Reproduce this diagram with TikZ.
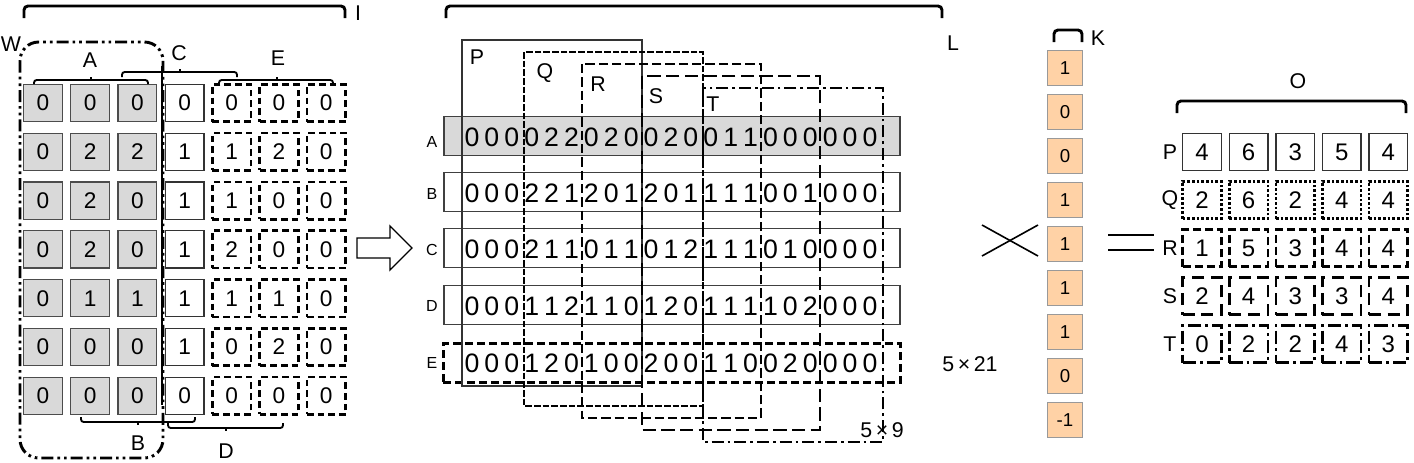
\documentclass[tikz,border=0pt]{standalone}
\usepackage{fontspec}
\setmainfont{Liberation Sans}
\begin{document}
\begin{tikzpicture}[x=0.75pt,y=-0.75pt,
  cell/.style={draw,minimum width=29pt,minimum height=28pt,inner sep=0pt,font=\fontsize{17}{17}\selectfont},
  gcell/.style={cell,fill=gray!30,draw=black!70,line width=0.9pt},
  wcell/.style={cell,draw=black!80,line width=0.9pt},
  dcell/.style={cell,dashed,line width=2pt,dash pattern=on 5pt off 3pt},
  dig/.style={inner sep=0pt,font=\fontsize{20}{20}\selectfont},
  lab/.style={inner sep=0pt,font=\fontsize{16}{16}\selectfont},
  slab/.style={inner sep=0pt,font=\fontsize{12}{12}\selectfont},
  bigbr/.style={line width=2.2pt,rounded corners=3pt},
  smbr/.style={line width=1.4pt,rounded corners=2pt},
  rowbox/.style={draw=black!75,line width=1pt},
  kcell/.style={draw=black!40,fill=orange!35,minimum width=26pt,minimum height=26pt,inner sep=0pt,font=\fontsize{14}{14}\selectfont},
  ocell/.style={draw,minimum width=29pt,minimum height=28pt,inner sep=0pt,font=\fontsize{18}{18}\selectfont},
  os0/.style={line width=1pt,draw=black!80},
  os1/.style={line width=2pt,dash pattern=on 2pt off 1.5pt},
  os2/.style={line width=2pt,dash pattern=on 6pt off 3pt},
  os3/.style={line width=2pt,dash pattern=on 9pt off 5pt},
  os4/.style={line width=2pt,dash pattern=on 10pt off 3pt on 2pt off 3pt}]
\useasboundingbox (0,0) rectangle (1414,462);
% left grid
\foreach \r/\vals in {0/{0,0,0,0,0,0,0},1/{0,2,2,1,1,2,0},2/{0,2,0,1,1,0,0},3/{0,2,0,1,2,0,0},4/{0,1,1,1,1,1,0},5/{0,0,0,1,0,2,0},6/{0,0,0,0,0,0,0}}{
  \foreach \v [count=\c from 0] in \vals {
    \pgfmathsetmacro{\xx}{43+\c*47.2}
    \pgfmathsetmacro{\yy}{103+\r*48.8}
    \ifnum\c<3 \node[gcell] (g\r\c) at (\xx,\yy) {\v};
    \else\ifnum\c=3 \node[wcell] (g\r\c) at (\xx,\yy) {\v};
    \else \node[dcell] (g\r\c) at (\xx,\yy) {\v};\fi\fi
  }
}
\draw[bigbr] (24,18) -- (24,6) -- (345,6) -- (345,18);
\node[lab] (lI) at (358,13) {I};
\node[lab] (lW) at (11,44) {W};
\draw[line width=2.2pt,rounded corners=14pt,dash pattern=on 9pt off 3pt on 2pt off 3pt on 2pt off 3pt] (20,42) rectangle (163,458);
\draw[line width=1.4pt] (162,66) -- (162,405);
\draw[smbr] (34,84) -- (34,80) -- (148,80) -- (148,84); \draw[smbr] (91,80)--(91,77);
\node[lab] (lA) at (90,60) {A};
\draw[smbr] (122,77) -- (122,72) -- (237,72) -- (237,77); \draw[smbr] (180,72)--(180,69);
\node[lab] (lC) at (179,53) {C};
\draw[smbr] (219,84) -- (219,80) -- (333,80) -- (333,84); \draw[smbr] (277,80)--(277,77);
\node[lab] (lE) at (278,58) {E};
\draw[smbr] (81,417) -- (81,422) -- (195,422) -- (195,417); \draw[smbr] (138,422)--(138,425);
\node[lab] (lB) at (138,443) {B};
\draw[smbr] (168,423) -- (168,428) -- (283,428) -- (283,423); \draw[smbr] (226,428)--(226,431);
\node[lab] (lD) at (226,451) {D};
% block arrow
\draw[line width=1pt,line join=miter] (357,238) -- (390,238) -- (390,226) -- (412,248) -- (390,270) -- (390,258) -- (357,258) -- cycle;
% middle
\draw[bigbr] (446,18) -- (446,6) -- (942,6) -- (942,18);
\node[lab] (lL) at (953,43) {L};
\node[rowbox,fill=gray!30,minimum width=342pt,minimum height=29pt,inner sep=0pt] (rA) at (672,136) {};
\node[rowbox,minimum width=342pt,minimum height=29pt,inner sep=0pt] (rB) at (672,192) {};
\node[rowbox,minimum width=342pt,minimum height=29pt,inner sep=0pt] (rC) at (672,248) {};
\node[rowbox,minimum width=342pt,minimum height=29pt,inner sep=0pt] (rD) at (672,305) {};
\node[draw,line width=2pt,dash pattern=on 6pt off 3pt,minimum width=343pt,minimum height=29pt,inner sep=0pt] (rE) at (672,363) {};
\node[slab] (la) at (432,142) {A};
\node[slab] (lb) at (432,194) {B};
\node[slab] (lc) at (432,250) {C};
\node[slab] (ld) at (432,306) {D};
\node[slab] (le) at (432,363) {E};
\foreach \r/\yy/\vals in {0/137/{0,0,0,0,2,2,0,2,0,0,2,0,0,1,1,0,0,0,0,0,0},1/193/{0,0,0,2,2,1,2,0,1,2,0,1,1,1,1,0,0,1,0,0,0},2/249/{0,0,0,2,1,1,0,1,1,0,1,2,1,1,1,0,1,0,0,0,0},3/306/{0,0,0,1,1,2,1,1,0,1,2,0,1,1,1,1,0,2,0,0,0},4/363/{0,0,0,1,2,0,1,0,0,2,0,0,1,1,0,0,2,0,0,0,0}}{
  \foreach \v [count=\c from 0] in \vals {
    \node[dig] (d\r-\c) at ({472+\c*19.9},\yy) {\v};
  }
}
\draw[line width=1pt,draw=black!80] (462,40) rectangle (642,386);
\draw[line width=1.6pt,dash pattern=on 5pt off 1.5pt] (524,52) rectangle (703,406);
\draw[line width=1.8pt,dash pattern=on 7pt off 3pt] (582,64) rectangle (761,418);
\draw[line width=1.8pt,dash pattern=on 10pt off 4pt] (642,76) rectangle (820,430);
\draw[line width=1.8pt,dash pattern=on 9pt off 3pt on 2pt off 3pt] (703,88) rectangle (883,442);
\node[lab] (lP) at (477,57) {P};
\node[lab] (lQ) at (545,73) {Q};
\node[lab] (lR) at (598,84) {R};
\node[lab] (lS) at (656,96) {S};
\node[lab] (lT) at (713,104) {T};
\node[lab] (n521) at (970,364) {5\,×\,21};
\node[lab] (n59) at (882,430) {5\,×\,9};
% times and equals
\draw[line width=1.2pt] (982,225) .. controls (1010,240) .. (1038,256);
\draw[line width=1.2pt] (982,256) .. controls (1010,240) .. (1038,225);
\draw[line width=1.3pt] (1108,235) -- (1154,235);
\draw[line width=1.3pt] (1108,250) -- (1154,250);
% K
\draw[bigbr] (1054,42) -- (1054,30) -- (1082,30) -- (1082,42);
\node[lab] (lK) at (1098,38) {K};
\foreach \v [count=\i from 0] in {1,0,0,1,1,1,1,0,-1}{
  \node[kcell] (k\i) at (1065,{68+\i*44}) {\v};
}
% O
\node[lab] (lO) at (1298,81) {O};
\draw[bigbr] (1177,113) -- (1177,101) -- (1406,101) -- (1406,113);
\foreach \r/\nm/\vals in {0/P/{4,6,3,5,4},1/Q/{2,6,2,4,4},2/R/{1,5,3,4,4},3/S/{2,4,3,3,4},4/T/{0,2,2,4,3}}{
  \node[lab] (o\nm) at (1170,{152+\r*48}) {\nm};
  \foreach \v [count=\c from 0] in \vals {
    \node[ocell,os\r] (o\r-\c) at ({1202+\c*46.6},{152+\r*48}) {\v};
  }
}
\end{tikzpicture}
\end{document}
